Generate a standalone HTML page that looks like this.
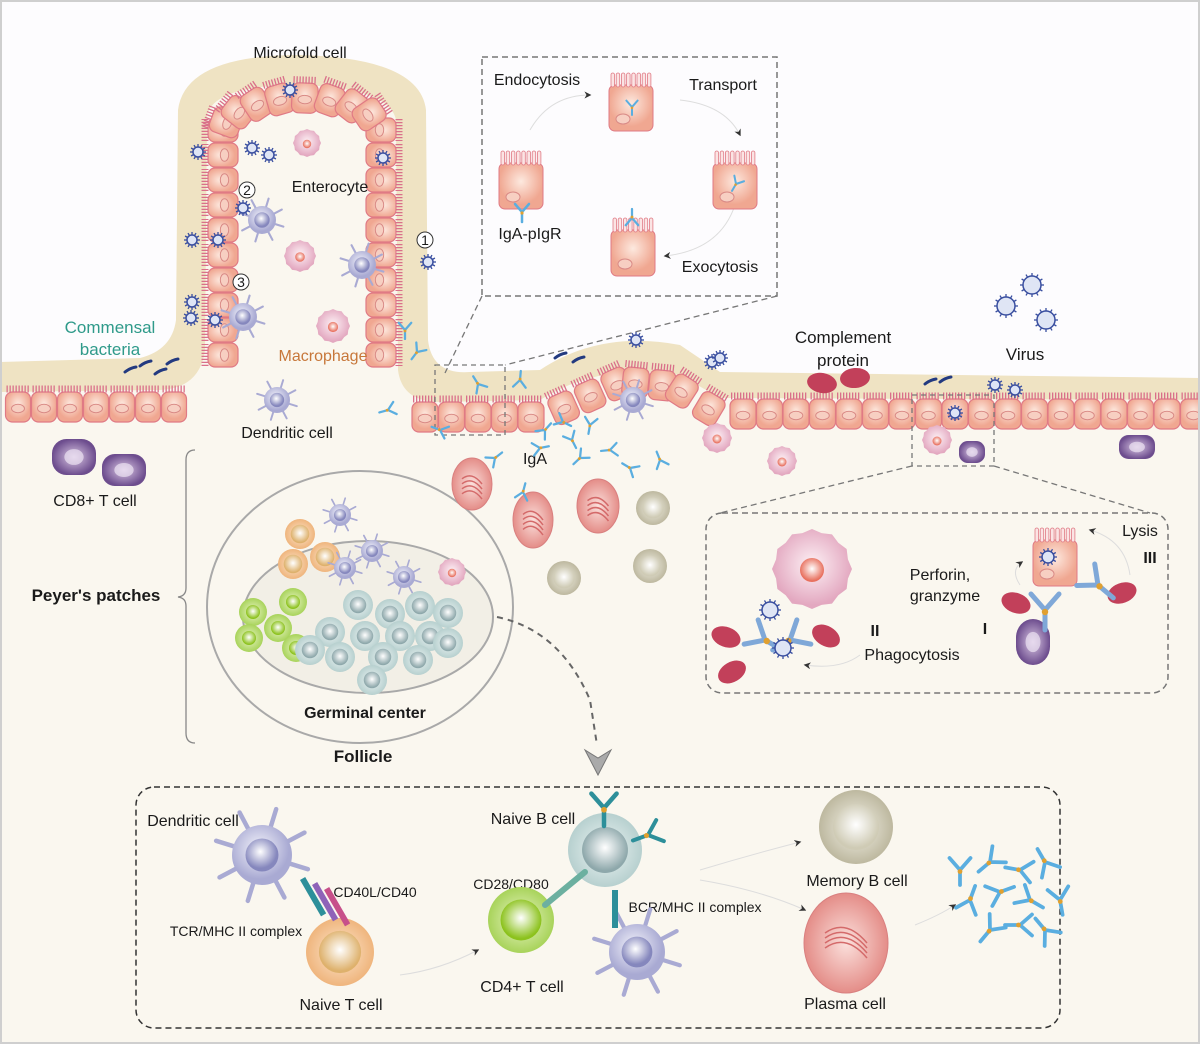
<!DOCTYPE html>
<html><head><meta charset="utf-8"><style>
html,body{margin:0;padding:0;background:#fff}
svg{display:block}
text{font-family:"Liberation Sans",Arial,sans-serif;fill:#1a1a1a}
</style></head><body>
<svg id="s" width="1200" height="1044" viewBox="0 0 1200 1044" xmlns="http://www.w3.org/2000/svg">
<defs>
<radialGradient id="gDC" cx="45%" cy="40%"><stop offset="0" stop-color="#f4f4fb"/><stop offset="1" stop-color="#a9aad3"/></radialGradient>
<radialGradient id="gDCn" cx="45%" cy="40%"><stop offset="0" stop-color="#fff"/><stop offset="1" stop-color="#8587bd"/></radialGradient>
<radialGradient id="gMac" cx="50%" cy="45%"><stop offset="0" stop-color="#fdf1f5"/><stop offset="1" stop-color="#e3a8c0"/></radialGradient>
<radialGradient id="gMacN" cx="50%" cy="45%"><stop offset="0" stop-color="#fff"/><stop offset="1" stop-color="#e8705e"/></radialGradient>
<radialGradient id="gCell" cx="50%" cy="40%"><stop offset="0" stop-color="#fde9df"/><stop offset="1" stop-color="#f0a791"/></radialGradient>
<radialGradient id="gT" cx="50%" cy="50%"><stop offset="0" stop-color="#fde7cf"/><stop offset="1" stop-color="#efb57d"/></radialGradient>
<radialGradient id="gTn" cx="50%" cy="45%"><stop offset="0" stop-color="#fff"/><stop offset="1" stop-color="#deb16c"/></radialGradient>
<radialGradient id="gG" cx="50%" cy="50%"><stop offset="0" stop-color="#eaf5c8"/><stop offset="1" stop-color="#a8d35a"/></radialGradient>
<radialGradient id="gGn" cx="50%" cy="45%"><stop offset="0" stop-color="#fff"/><stop offset="1" stop-color="#8cc21d"/></radialGradient>
<radialGradient id="gB" cx="50%" cy="50%"><stop offset="0" stop-color="#eef5f4"/><stop offset="1" stop-color="#b7d0cf"/></radialGradient>
<radialGradient id="gBn" cx="50%" cy="45%"><stop offset="0" stop-color="#fff"/><stop offset="1" stop-color="#8ea8ab"/></radialGradient>
<radialGradient id="gM" cx="50%" cy="50%"><stop offset="0" stop-color="#f4f2e8"/><stop offset="1" stop-color="#bdb89f"/></radialGradient>
<radialGradient id="gMn" cx="50%" cy="45%"><stop offset="0" stop-color="#fff"/><stop offset="1" stop-color="#cfcbb5"/></radialGradient>
<radialGradient id="gP" cx="50%" cy="50%"><stop offset="0" stop-color="#fbe0dc"/><stop offset="1" stop-color="#e48d88"/></radialGradient>
<radialGradient id="gCD8" cx="50%" cy="50%"><stop offset="0" stop-color="#d9c6e3"/><stop offset="1" stop-color="#6d4d8e"/></radialGradient>
<marker id="ar" viewBox="0 0 10 10" refX="8" refY="5" markerWidth="7" markerHeight="7" orient="auto"><path d="M0,0 L10,5 L0,10 L3,5z" fill="#333"/></marker>
</defs>
<rect x="0" y="0" width="1200" height="1044" fill="#fdfcfe"/>
<path d="M0,362 L140,358 Q172,350 176,320 L178,110 Q185,55 300,55 Q420,58 426,110 L428,340 Q432,375 470,372 L540,370 Q600,330 680,345 L720,372 L1200,378 L1200,1044 L0,1044Z" fill="#efe3c3"/>
<path d="M0,392 L160,390 Q200,388 205,350 L207,115 Q215,85 300,85 Q390,88 396,120 L398,370 Q402,402 440,402 L540,400 Q600,362 680,375 L720,398 L1200,400 L1200,1044 L0,1044Z" fill="#faf7ef"/>
<g id="cells"></g>
<rect x="1" y="1" width="1198" height="1042" fill="none" stroke="#cfcfcf" stroke-width="2"/>
<g id="misc"></g>

<text x="300" y="58" font-size="16" text-anchor="middle">Microfold cell</text>
<text x="330" y="192" font-size="16" text-anchor="middle">Enterocyte</text>
<text x="110" y="333" font-size="17" text-anchor="middle" style="fill:#2f9a8a">Commensal</text>
<text x="110" y="355" font-size="17" text-anchor="middle" style="fill:#2f9a8a">bacteria</text>
<text x="323" y="361" font-size="16" text-anchor="middle" style="fill:#c7773a">Macrophage</text>
<text x="287" y="438" font-size="16" text-anchor="middle">Dendritic cell</text>
<text x="95" y="506" font-size="16" text-anchor="middle">CD8+ T cell</text>
<text x="96" y="601" font-size="17" font-weight="bold" text-anchor="middle">Peyer's patches</text>
<text x="365" y="718" font-size="16" font-weight="bold" text-anchor="middle">Germinal center</text>
<text x="363" y="762" font-size="17" font-weight="bold" text-anchor="middle">Follicle</text>
<text x="535" y="464" font-size="16" text-anchor="middle">IgA</text>
<text x="843" y="343" font-size="17" text-anchor="middle">Complement</text>
<text x="843" y="366" font-size="17" text-anchor="middle">protein</text>
<text x="1025" y="360" font-size="17" text-anchor="middle">Virus</text>
<g font-size="14">
<circle cx="247" cy="190" r="8" fill="#fff" stroke="#333"/><text x="247" y="195" text-anchor="middle">2</text>
<circle cx="425" cy="240" r="8" fill="#fff" stroke="#333"/><text x="425" y="245" text-anchor="middle">1</text>
<circle cx="241" cy="282" r="8" fill="#fff" stroke="#333"/><text x="241" y="287" text-anchor="middle">3</text>
</g>
<path d="M195,450 Q186,450 186,460 L186,588 Q186,596 178,597 Q186,598 186,606 L186,733 Q186,743 195,743" fill="none" stroke="#888" stroke-width="1.3"/>
<ellipse cx="360" cy="607" rx="153" ry="136" fill="none" stroke="#a9a9a9" stroke-width="2"/>
<ellipse cx="368" cy="617" rx="125" ry="76" fill="#f2efe6" stroke="#a9a9a9" stroke-width="2"/>
<path d="M497,617 Q560,630 590,700 L597,745" fill="none" stroke="#666" stroke-width="2" stroke-dasharray="6,5"/>
<path d="M585,750 L598,775 L611,750 L598,758Z" fill="#aaa" stroke="#777"/>

<rect x="482" y="57" width="295" height="239" fill="#fdfcfe" stroke="#777" stroke-width="1.5" stroke-dasharray="6,4"/>
<path d="M482,296 L445,373 M777,296 L505,365" stroke="#777" stroke-dasharray="6,4" stroke-width="1.3"/>
<rect x="435" y="365" width="70" height="70" fill="none" stroke="#777" stroke-dasharray="5,4" stroke-width="1.3"/>
<text x="537" y="85" font-size="16" text-anchor="middle">Endocytosis</text>
<text x="723" y="90" font-size="16" text-anchor="middle">Transport</text>
<text x="530" y="239" font-size="16" text-anchor="middle">IgA-pIgR</text>
<text x="720" y="272" font-size="16" text-anchor="middle">Exocytosis</text>
<path d="M530,130 Q550,95 590,95" fill="none" stroke="#ddd" marker-end="url(#ar)"/>
<path d="M680,100 Q725,105 740,135" fill="none" stroke="#ddd" marker-end="url(#ar)"/>
<path d="M735,205 Q720,250 665,256" fill="none" stroke="#ddd" marker-end="url(#ar)"/>

<rect x="706" y="513" width="462" height="180" rx="16" fill="none" stroke="#777" stroke-width="1.5" stroke-dasharray="6,4"/>
<path d="M912,466 L720,513 M994,466 L1150,513" stroke="#777" stroke-dasharray="6,4" stroke-width="1.3"/>
<rect x="912" y="395" width="82" height="71" fill="none" stroke="#777" stroke-dasharray="5,4" stroke-width="1.3"/>
<text x="940" y="580" font-size="16" text-anchor="middle">Perforin,</text>
<text x="945" y="601" font-size="16" text-anchor="middle">granzyme</text>
<text x="1140" y="536" font-size="16" text-anchor="middle">Lysis</text>
<text x="1150" y="563" font-size="16" font-weight="bold" text-anchor="middle">III</text>
<text x="875" y="636" font-size="16" font-weight="bold" text-anchor="middle">II</text>
<text x="912" y="660" font-size="16" text-anchor="middle">Phagocytosis</text>
<text x="985" y="634" font-size="16" font-weight="bold" text-anchor="middle">I</text>

<rect x="136" y="787" width="924" height="241" rx="18" fill="none" stroke="#333" stroke-width="1.5" stroke-dasharray="6,4"/>
<text x="193" y="826" font-size="16" text-anchor="middle">Dendritic cell</text>
<text x="375" y="897" font-size="14" text-anchor="middle">CD40L/CD40</text>
<text x="236" y="936" font-size="14" text-anchor="middle">TCR/MHC II complex</text>
<text x="341" y="1010" font-size="16" text-anchor="middle">Naive T cell</text>
<text x="533" y="824" font-size="16" text-anchor="middle">Naive B cell</text>
<text x="511" y="889" font-size="14" text-anchor="middle">CD28/CD80</text>
<text x="522" y="992" font-size="16" text-anchor="middle">CD4+ T cell</text>
<text x="695" y="912" font-size="14" text-anchor="middle">BCR/MHC II complex</text>
<text x="857" y="886" font-size="16" text-anchor="middle">Memory B cell</text>
<text x="845" y="1009" font-size="16" text-anchor="middle">Plasma cell</text>
<path d="M400,975 Q440,970 478,950" fill="none" stroke="#ddd" marker-end="url(#ar)"/>
<path d="M700,870 Q750,855 800,842" fill="none" stroke="#ddd" marker-end="url(#ar)"/>
<path d="M700,880 Q760,890 805,910" fill="none" stroke="#ddd" marker-end="url(#ar)"/>
<path d="M915,925 Q940,915 955,905" fill="none" stroke="#ddd" marker-end="url(#ar)"/>
<path d="M1020,585 Q1010,570 1022,562" fill="none" stroke="#ddd" marker-end="url(#ar)"/>
<path d="M1130,575 Q1125,540 1090,530" fill="none" stroke="#ddd" marker-end="url(#ar)"/>
<path d="M860,655 Q840,670 805,665" fill="none" stroke="#ddd" marker-end="url(#ar)"/>
<g id="fg"></g>
</svg>
<script>
const NS="http://www.w3.org/2000/svg";
function add(p,tag,a){const e=document.createElementNS(NS,tag);for(const k in a)e.setAttribute(k,a[k]);(typeof p==="string"?document.getElementById(p):p).appendChild(e);return e;}
const C=document.getElementById('cells');
function cell(x,y,ang,w,h){const g=add(C,'g',{transform:`translate(${x},${y}) rotate(${ang})`});
 add(g,'rect',{x:-w/2,y:0,width:w,height:h,rx:7,fill:'url(#gCell)',stroke:'#e07a85','stroke-width':1.2});
 add(g,'line',{x1:-w/2+1,y1:-3,x2:w/2-1,y2:-3,stroke:'#d9708a','stroke-width':7,'stroke-dasharray':'1.3,1.7'});
 add(g,'ellipse',{cx:0,cy:h*0.55,rx:w*0.26,ry:h*0.14,fill:'#f7cfc2',stroke:'#d98a86'});}
for(let x=18;x<180;x+=26)cell(x,392,0,25,30);
for(let y=130;y<380;y+=25)cell(208,y,-90,24,30);
for(let y=130;y<370;y+=25)cell(396,y,90,24,30);
for(let a=200;a<=340;a+=18){const r=a*Math.PI/180;cell(302+96*Math.cos(r),135+52*Math.sin(r),a+90,26,30);}
function apical(x){if(x<540)return 402;if(x<620)return 402-(x-540)*0.45;if(x<680)return 366+(x-620)*0.1;if(x<720)return 372+(x-680)*0.65;return 399;}
for(let x=425;x<1200;x+=26.5){const y=apical(x);const s=(apical(x+6)-apical(x-6))/12;cell(x,y,Math.atan(s)*180/Math.PI,26,30);}
const F=document.getElementById('fg');
function virus(x,y,r){r=r||6;const g=add(F,'g',{});for(let i=0;i<12;i++){const a=i*Math.PI/6;add(g,'line',{x1:x,y1:y,x2:x+Math.cos(a)*(r+3),y2:y+Math.sin(a)*(r+3),stroke:'#3a4fa0','stroke-width':1.3});}
 add(g,'circle',{cx:x,cy:y,r:r,fill:'#dfe5f5',stroke:'#3a4fa0','stroke-width':1.5});}
function dc(x,y,r){const g=add(F,'g',{});for(let i=0;i<8;i++){const a=i*Math.PI/4+0.3;add(g,'line',{x1:x,y1:y,x2:x+Math.cos(a)*r*1.6,y2:y+Math.sin(a)*r*1.6,stroke:'#a9aad3','stroke-width':Math.max(1.5,r*0.15),'stroke-linecap':'round'});}
 add(g,'circle',{cx:x,cy:y,r:r,fill:'url(#gDC)'});add(g,'circle',{cx:x,cy:y,r:r*0.55,fill:'url(#gDCn)'});}
function mac(x,y,r){let d='';for(let i=0;i<=24;i++){const a=i*Math.PI/12;const rr=r*(i%2?0.93:1);d+=(i?'L':'M')+(x+Math.cos(a)*rr)+','+(y+Math.sin(a)*rr);}
 add(F,'path',{d:d+'Z',fill:'url(#gMac)','stroke-linejoin':'round'});add(F,'circle',{cx:x,cy:y+1,r:r*0.3,fill:'url(#gMacN)'});}
function round(x,y,r,g1,g2,rn){add(F,'circle',{cx:x,cy:y,r:r,fill:`url(#${g1})`});add(F,'circle',{cx:x,cy:y,r:r*(rn||0.62),fill:`url(#${g2})`});}
function plasma(x,y,rx,ry){add(F,'ellipse',{cx:x,cy:y,rx:rx,ry:ry,fill:'url(#gP)',stroke:'#d98080'});for(let i=0;i<4;i++)add(F,'path',{d:`M${x-rx*0.5},${y-ry*0.2+i*5} Q${x},${y-ry*0.5+i*5} ${x+rx*0.5},${y+i*5}`,fill:'none',stroke:'#d46a6a','stroke-width':1.5});}
function ab(x,y,s,col,rot){const g=add(F,'g',{transform:`translate(${x},${y}) rotate(${rot||0}) scale(${s})`});
 add(g,'path',{d:'M0,0 L0,10 M0,0 L-7,-8 M0,0 L7,-8',stroke:col||'#5aaee0','stroke-width':2.5,fill:'none','stroke-linecap':'round'});add(g,'circle',{cx:0,cy:1,r:1.6,fill:'#e0a030'});}
function cd8(x,y,w,h){add(F,'rect',{x:x-w/2,y:y-h/2,width:w,height:h,rx:h*0.4,fill:'url(#gCD8)'});add(F,'ellipse',{cx:x,cy:y,rx:w*0.22,ry:h*0.22,fill:'#ece2f2',opacity:0.7});}
function red(x,y,rot){add(F,'ellipse',{cx:x,cy:y,rx:15,ry:10,fill:'#c2405a',transform:`rotate(${rot} ${x} ${y})`});}
dc(262,220,14);dc(362,265,14);dc(243,317,14);dc(277,400,13);dc(633,400,13);
mac(300,256,16);mac(333,326,17);mac(307,143,14);mac(717,438,15);mac(782,461,15);mac(937,440,15);
cd8(74,457,44,36);cd8(124,470,44,32);cd8(1137,447,36,24);cd8(972,452,26,22);
plasma(472,484,20,26);plasma(533,520,20,28);plasma(598,506,21,27);
round(653,508,17,'gM','gMn');round(650,566,17,'gM','gMn');round(564,578,17,'gM','gMn');
[[300,534],[325,557],[293,564]].forEach(p=>round(p[0],p[1],15,'gT','gTn'));
dc(340,515,11);dc(345,568,11);dc(372,551,11);dc(404,577,11);mac(452,572,14);
[[253,612],[293,602],[278,628],[249,638],[296,648]].forEach(p=>round(p[0],p[1],14,'gG','gGn',0.5));
[[358,605],[390,614],[420,606],[448,613],[330,632],[365,636],[400,636],[430,636],[340,657],[383,657],[418,660],[448,643],[372,680],[310,650]].forEach(p=>round(p[0],p[1],15,'gB','gBn',0.55));
[[198,152],[252,148],[269,155],[383,158],[192,240],[218,240],[243,208],[192,302],[191,318],[215,320],[428,262],[290,90],[636,340],[712,362],[720,358],[1032,285],[1006,306],[1046,320],[995,385],[1015,390],[955,413]].forEach(p=>virus(p[0],p[1],p[0]>990&&p[1]<330?9:5));
[[405,330],[417,352],[388,410],[440,430],[478,384],[520,380],[545,430],[540,448],[563,422],[572,440],[590,425],[580,458],[610,450],[630,468],[660,460],[523,492],[495,458]].forEach((p,i)=>ab(p[0],p[1],0.9,'#5aaee0',i*37));
red(822,383,10);red(855,378,-5);
[[130,370],[145,364],[160,372],[172,362],[560,356],[578,360],[930,382],[945,380]].forEach(p=>add(F,'path',{d:`M${p[0]-5},${p[1]+2} Q${p[0]},${p[1]-2} ${p[0]+6},${p[1]-3}`,stroke:'#233a80','stroke-width':3,fill:'none','stroke-linecap':'round'}));
function icell(x,y){add(F,'rect',{x:x-22,y:y,width:44,height:46,rx:6,fill:'url(#gCell)',stroke:'#e07a85'});for(let i=0;i<8;i++)add(F,'rect',{x:x-20+i*5.2,y:y-12,width:3.5,height:14,rx:1.7,fill:'#fbe4e4',stroke:'#e07a85','stroke-width':0.8});add(F,'ellipse',{cx:x-8,cy:y+34,rx:7,ry:5,fill:'#f7cfc2',stroke:'#d98a86'});}
icell(521,163);icell(631,85);icell(735,163);icell(633,230);
ab(522,212,1,'#5aaee0',0);ab(632,107,0.8,'#5aaee0',0);ab(736,184,0.8,'#5aaee0',30);ab(632,218,0.9,'#5aaee0',180);
mac(812,569,40);icell(1055,540);virus(1048,557,6);cd8(1033,642,34,46);
red(726,637,20);red(732,672,-30);red(826,636,30);red(1016,603,20);red(1122,593,-20);
ab(765,640,2,'#7fa8d8',-60);ab(790,640,2,'#7fa8d8',60);ab(1045,610,2,'#7fa8d8',0);ab(1098,585,2,'#7fa8d8',-50);
virus(770,610,8);virus(783,648,8);
dc(262,855,30);round(340,952,34,'gT','gTn');round(521,920,33,'gG','gGn');round(605,850,37,'gB','gBn');dc(637,952,28);
round(856,827,37,'gM','gMn');plasma(846,943,42,50);
[[300,880],[312,885],[324,890]].forEach((p,i)=>add(F,'rect',{x:p[0],y:p[1],width:6,height:42,fill:['#2d8f9a','#8e62b8','#c7508a'][i],transform:`rotate(-30 ${p[0]} ${p[1]})`}));
add(F,'line',{x1:545,y1:905,x2:585,y2:872,stroke:'#6cb0a0','stroke-width':6,'stroke-linecap':'round'});
add(F,'rect',{x:612,y:890,width:6,height:38,fill:'#2d8f9a'});
ab(604,808,1.8,'#2d8f9a',0);ab(648,835,1.6,'#2d8f9a',70);
[[960,870],[990,862],[1020,870],[1045,862],[970,900],[1000,892],[1030,900],[1060,900],[990,930],[1020,925],[1045,930]].forEach((p,i)=>ab(p[0],p[1],1.5,'#5aaee0',i*50));
</script>
</body></html>
